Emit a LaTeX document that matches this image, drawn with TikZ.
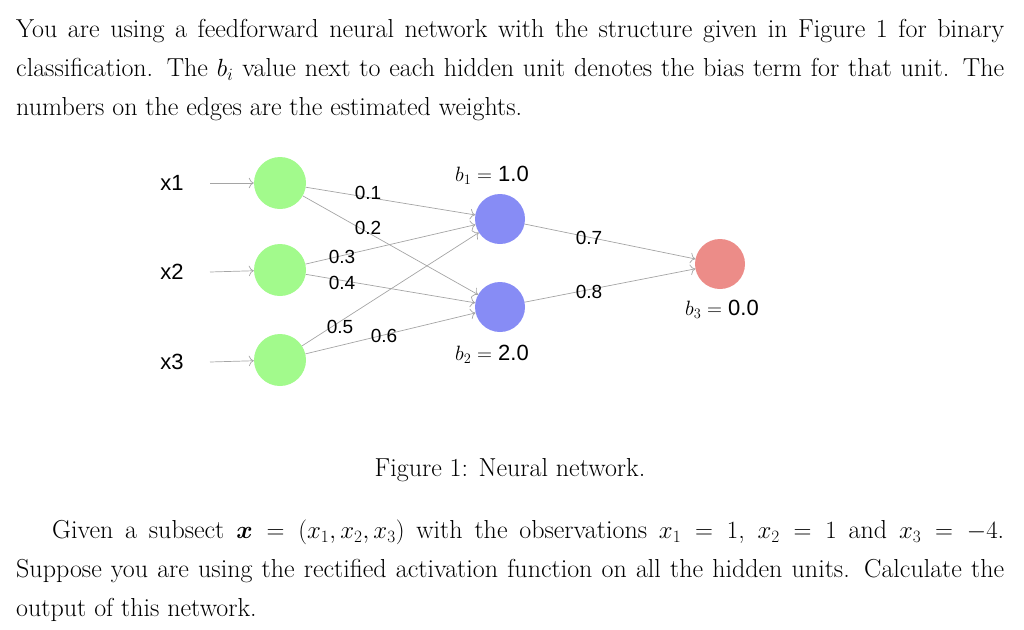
\documentclass[tikz,border=0pt]{standalone}
\usepackage{amsmath}
\usepackage{amssymb}
\usepackage{fontspec}
\newfontfamily\sansfont{Liberation Sans}
\usepackage{tikz}
\usetikzlibrary{arrows.meta}
\definecolor{mygreen}{RGB}{162,250,140}
\definecolor{myblue}{RGB}{135,140,245}
\definecolor{myred}{RGB}{236,140,136}
\definecolor{mygray}{RGB}{165,165,165}

\begin{document}
\begin{tikzpicture}[x=1pt,y=-1pt,
    unit/.style={circle, minimum size=52pt, inner sep=0pt},
    wire/.style={mygray, line width=0.7pt, -{To[length=5pt]}},
    weight/.style={font=\sansfont\fontsize{19}{19}\selectfont, inner sep=0pt},
    lbl/.style={font=\sansfont\fontsize{22}{22}\selectfont, inner sep=0pt},
    para/.style={anchor=north west, inner sep=0pt, text width=988pt, align=justify,
                 font=\fontsize{26}{39}\selectfont}]
  \useasboundingbox (0,0) rectangle (1024,629);
  % Question text
  \node[para] (top) at (16,19) {You are using a feedforward neural network with the structure given in Figure 1 for binary classification. The $b_i$ value next to each hidden unit denotes the bias term for that unit. The numbers on the edges are the estimated weights.\par};

  % Units
  \node[unit, fill=mygreen] (in1) at (280,183) {};
  \node[unit, fill=mygreen] (in2) at (280,270) {};
  \node[unit, fill=mygreen] (in3) at (280,360) {};
  \node[unit, fill=myblue, minimum size=50pt] (h1) at (500,219) {};
  \node[unit, fill=myblue, minimum size=50pt] (h2) at (500,307) {};
  \node[unit, fill=myred, minimum size=50pt] (out) at (720,264) {};

  % Inputs
  \foreach \i/\y in {1/183,2/272,3/362} {
    \node[lbl] (x\i) at (172,\y) {x\i};
    \coordinate (s\i) at (210,\y);
    \draw[wire] (s\i) -- (in\i);
  }

  % Edges
  \draw[wire] (in1) -- (h1);
  \draw[wire] (in1) -- (h2);
  \draw[wire] (in2) -- (h1);
  \draw[wire] (in2) -- (h2);
  \draw[wire] (in3) -- (h1);
  \draw[wire] (in3) -- (h2);
  \draw[wire] (h1) -- (out);
  \draw[wire] (h2) -- (out);

  % Weights
  \node[weight] (w1) at (368,193) {0.1};
  \node[weight] (w2) at (368,228) {0.2};
  \node[weight] (w3) at (342,257) {0.3};
  \node[weight] (w4) at (342,283) {0.4};
  \node[weight] (w5) at (340,327) {0.5};
  \node[weight] (w6) at (384,336) {0.6};
  \node[weight] (w7) at (589,238) {0.7};
  \node[weight] (w8) at (589,292) {0.8};

  % Biases
  \node[lbl] (b1) at (492,175) {$b_1 = $ 1.0};
  \node[lbl] (b2) at (492,354) {$b_2 = $ 2.0};
  \node[lbl] (b3) at (722,309) {$b_3 = $ 0.0};

  % Caption
  \node[font=\fontsize{26}{26}\selectfont] (cap) at (510,470) {Figure 1: Neural network.};

  % Question text, continued
  \node[para] (bot) at (16,520) {\hspace*{36pt}Given a subsect $\boldsymbol{x} = (x_1, x_2, x_3)$ with the observations $x_1 = 1$, $x_2 = 1$ and $x_3 = -4$.\linebreak Suppose you are using the rectified activation function on all the hidden units. Calculate the\linebreak output of this network.\par};
\end{tikzpicture}
\end{document}
